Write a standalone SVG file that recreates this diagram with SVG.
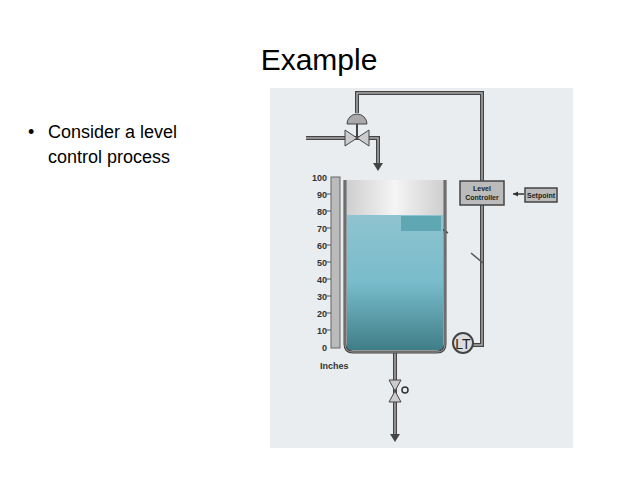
<svg xmlns="http://www.w3.org/2000/svg" width="638" height="478" viewBox="0 0 638 478">
<style>
.t{font-family:"Liberation Sans",Arial,sans-serif}
.p{fill:none;stroke:#444;stroke-width:4}
.pi{fill:none;stroke:#aaa;stroke-width:1.5}
.s{font-family:"Liberation Sans",Arial,sans-serif;font-size:9px;font-weight:bold;fill:#333;text-anchor:end}
</style>
<defs>
<linearGradient id="liq" x1="0" y1="0" x2="0" y2="1"><stop offset="0" stop-color="#8fc3cf"/><stop offset="0.5" stop-color="#78bccb"/><stop offset="1" stop-color="#3f7e87"/></linearGradient>
<linearGradient id="top" x1="0" y1="0" x2="1" y2="0"><stop offset="0" stop-color="#cfcfcf"/><stop offset="0.5" stop-color="#f5f5f5"/><stop offset="1" stop-color="#cfcfcf"/></linearGradient>
</defs>
<rect width="638" height="478" fill="#fff"/>
<text x="319" y="70" class="t" font-size="30" text-anchor="middle">Example</text>
<text x="28" y="138" class="t" font-size="18">•</text>
<text x="48" y="138" class="t" font-size="18">Consider a level</text>
<text x="48" y="163" class="t" font-size="18">control process</text>
<rect x="270" y="88" width="303" height="360" fill="#e9edf0"/>
<g id="connectors">
<path class="p" d="M357 113V93H482V345H473"/>
<path class="pi" d="M357 113V93H482V345H473"/>
<path class="p" d="M306 138H378V163"/>
<path class="pi" d="M306 138H378V163"/>
<path d="M373 163h10l-5 8z" fill="#444"/>
<path class="p" d="M395 352V434"/>
<path class="pi" d="M395 352V434"/>
<path d="M390 434h10l-5 8z" fill="#444"/>
<path d="M524 194H513" stroke="#333" stroke-width="1.5"/>
<path d="M513 194l5-2.5v5z" fill="#333"/>
<path d="M437 226l11 7M471 253l12 10" stroke="#555" stroke-width="1.5"/>
</g>
<g id="scale">
<rect x="331" y="177" width="9" height="171" fill="#bbb" stroke="#666"/>
<g class="s">
<text x="327" y="181">100</text><text x="327" y="198">90</text><text x="327" y="215">80</text><text x="327" y="232">70</text><text x="327" y="249">60</text><text x="327" y="266">50</text><text x="327" y="283">40</text><text x="327" y="300">30</text><text x="327" y="317">20</text><text x="327" y="334">10</text><text x="327" y="351">0</text>
</g>
<path d="M326 194h5M326 211h5M326 228h5M326 245h5M326 262h5M326 279h5M326 296h5M326 313h5M326 330h5" stroke="#555"/>
<text x="320" y="369" class="s" style="text-anchor:start">Inches</text>
</g>
<g id="tank">
<rect x="347" y="180" width="96" height="35" fill="url(#top)"/>
<rect x="347" y="215" width="96" height="135" fill="url(#liq)"/>
<rect x="401" y="216" width="40" height="15" fill="#5ea7b3"/>
<path d="M345 180V344q0 8 8 8H437q8 0 8-8V180" fill="none" stroke="#444" stroke-width="3"/>
<path d="M345 180V344q0 8 8 8H437q8 0 8-8V180" fill="none" stroke="#999" stroke-width="1"/>
</g>
<g id="inlet-valve">
<path d="M347 124a10 10 0 0 1 20 0z" fill="#aaa" stroke="#444"/>
<path d="M357 124v13" stroke="#444" stroke-width="2"/>
<path d="M345 130v16l24-16v16z" fill="#ccc" stroke="#444"/>
</g>
<g id="outlet-valve">
<path d="M389 380h12l-12 22h12z" fill="#ccc" stroke="#444"/>
<circle cx="405" cy="390" r="3" fill="none" stroke="#333" stroke-width="1.5"/>
</g>
<g id="lt">
<circle cx="463" cy="343" r="10" fill="#ddd" stroke="#444" stroke-width="2"/>
<text x="463" y="349" class="t" font-size="14" text-anchor="middle" fill="#222">LT</text>
</g>
<g id="controller">
<rect x="460" y="181" width="44" height="24" fill="#bbb" stroke="#444" stroke-width="1.5"/>
<text x="482" y="191" class="t" font-size="7" font-weight="bold" text-anchor="middle" fill="#222">Level</text>
<text x="482" y="200" class="t" font-size="7" font-weight="bold" text-anchor="middle" fill="#222">Controller</text>
</g>
<g id="setpoint">
<rect x="525" y="188" width="32" height="14" fill="#bbb" stroke="#444" stroke-width="1.5"/>
<text x="541" y="198" class="t" font-size="7" font-weight="bold" text-anchor="middle" fill="#222">Setpoint</text>
</g>
</svg>
